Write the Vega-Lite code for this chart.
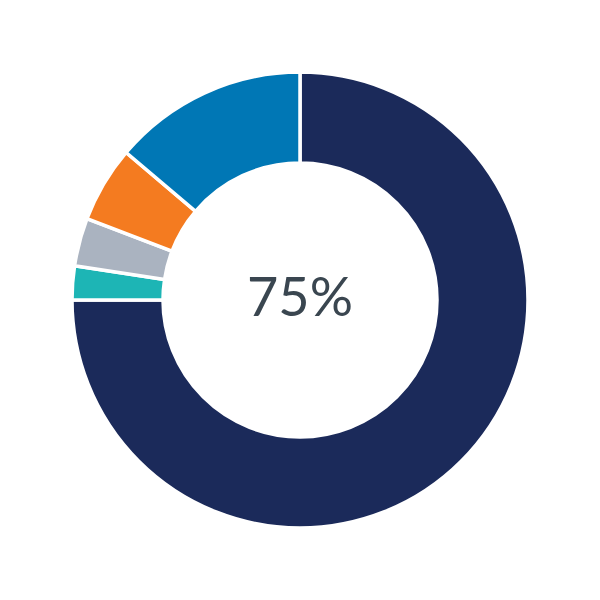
{
  "$schema": "https://vega.github.io/schema/vega-lite/v6.json",
  "width": 600,
  "height": 600,
  "padding": 0,
  "autosize": {"type": "fit", "contains": "padding"},
  "background": "white",
  "view": {"stroke": null},
  "data": {
    "values": [
      {"category": "A", "value": 75, "order": 1},
      {"category": "B", "value": 2.4, "order": 2},
      {"category": "C", "value": 3.4, "order": 3},
      {"category": "D", "value": 5.4, "order": 4},
      {"category": "E", "value": 13.8, "order": 5}
    ]
  },
  "layer": [
    {
      "mark": {"type": "arc", "outerRadius": 228, "innerRadius": 137, "stroke": "white", "strokeWidth": 3.5},
      "encoding": {
        "theta": {"field": "value", "type": "quantitative", "stack": true},
        "order": {"field": "order", "type": "quantitative"},
        "color": {
          "field": "category",
          "type": "nominal",
          "scale": {"domain": ["A", "B", "C", "D", "E"], "range": ["#1b2a5a", "#1db5b5", "#aab3c0", "#f47b20", "#0077b5"]},
          "legend": null
        }
      }
    },
    {
      "data": {"values": [{"label": "75%"}]},
      "mark": {"type": "text", "fontSize": 54, "font": "Lato", "color": "#3a4650", "align": "center", "baseline": "middle", "dy": 0},
      "encoding": {"text": {"field": "label"}}
    }
  ]
}
